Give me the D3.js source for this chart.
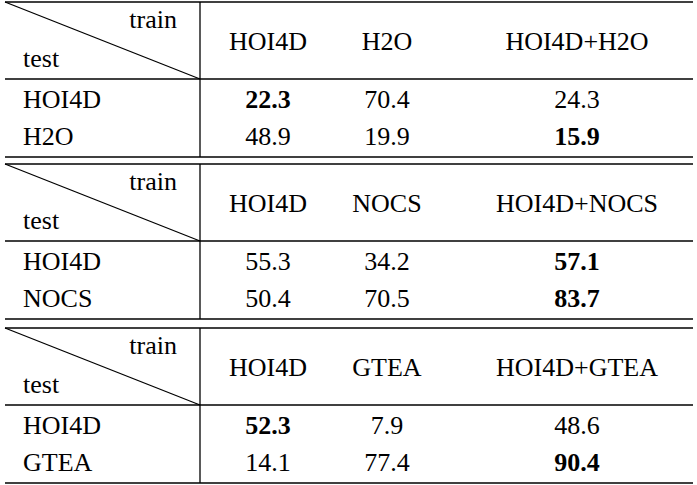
<!DOCTYPE html>
<html><head><meta charset="utf-8">
<script src="https://cdn.jsdelivr.net/npm/d3@7"></script>
<style>body{margin:0;background:#fff} text{font-family:'Liberation Serif','Times New Roman',serif}</style></head>
<body><svg id="c" width="697" height="485"></svg>
<script>
// one entry per block: train columns, test rows, values, bold flags
const trainCols = [
  ['HOI4D', 'H2O', 'HOI4D+H2O'],
  ['HOI4D', 'NOCS', 'HOI4D+NOCS'],
  ['HOI4D', 'GTEA', 'HOI4D+GTEA']
];
const testRows = [
  ['HOI4D', 'H2O'],
  ['HOI4D', 'NOCS'],
  ['HOI4D', 'GTEA']
];
const values = [
  [[22.3, 70.4, 24.3], [48.9, 19.9, 15.9]],
  [[55.3, 34.2, 57.1], [50.4, 70.5, 83.7]],
  [[52.3, 7.9, 48.6], [14.1, 77.4, 90.4]]
];
const bold = [
  [[1, 0, 0], [0, 0, 1]],
  [[0, 0, 1], [0, 0, 1]],
  [[1, 0, 0], [0, 0, 1]]
];

const svg = d3.select('#c');
const x0 = 5, x1 = 693, xv = 200;
const colCenters = [268, 387, 577];
const blockTop = [2, 164, 328];
const line = (xa, ya, xb, yb) => svg.append('line')
  .attr('x1', xa).attr('y1', ya).attr('x2', xb).attr('y2', yb)
  .attr('stroke', '#000').attr('stroke-width', 1.3);

blockTop.forEach((t, b) => {
  const hb = t + 77, bottom = t + 155;
  line(x0, t, x1, t);
  line(x0, hb, x1, hb);
  line(x0, bottom, x1, bottom);
  line(xv, t, xv, bottom);
  line(x0, t, xv, hb);
  const txt = (s, x, y, anchor, w) => svg.append('text').text(s)
    .attr('x', x).attr('y', y).attr('text-anchor', anchor || 'start')
    .attr('font-size', 26)
    .attr('font-weight', w ? 'bold' : 'normal');
  txt('train', 177, t + 26, 'end');
  txt('test', 23, t + 65);
  trainCols[b].forEach((c, j) => txt(c, colCenters[j], t + 48, 'middle'));
  testRows[b].forEach((r, i) => {
    const y = t + 106 + i * 37;
    txt(r, 23, y);
    values[b][i].forEach((v, j) => txt(v.toFixed(1), colCenters[j], y, 'middle', bold[b][i][j]));
  });
});
</script></body></html>
